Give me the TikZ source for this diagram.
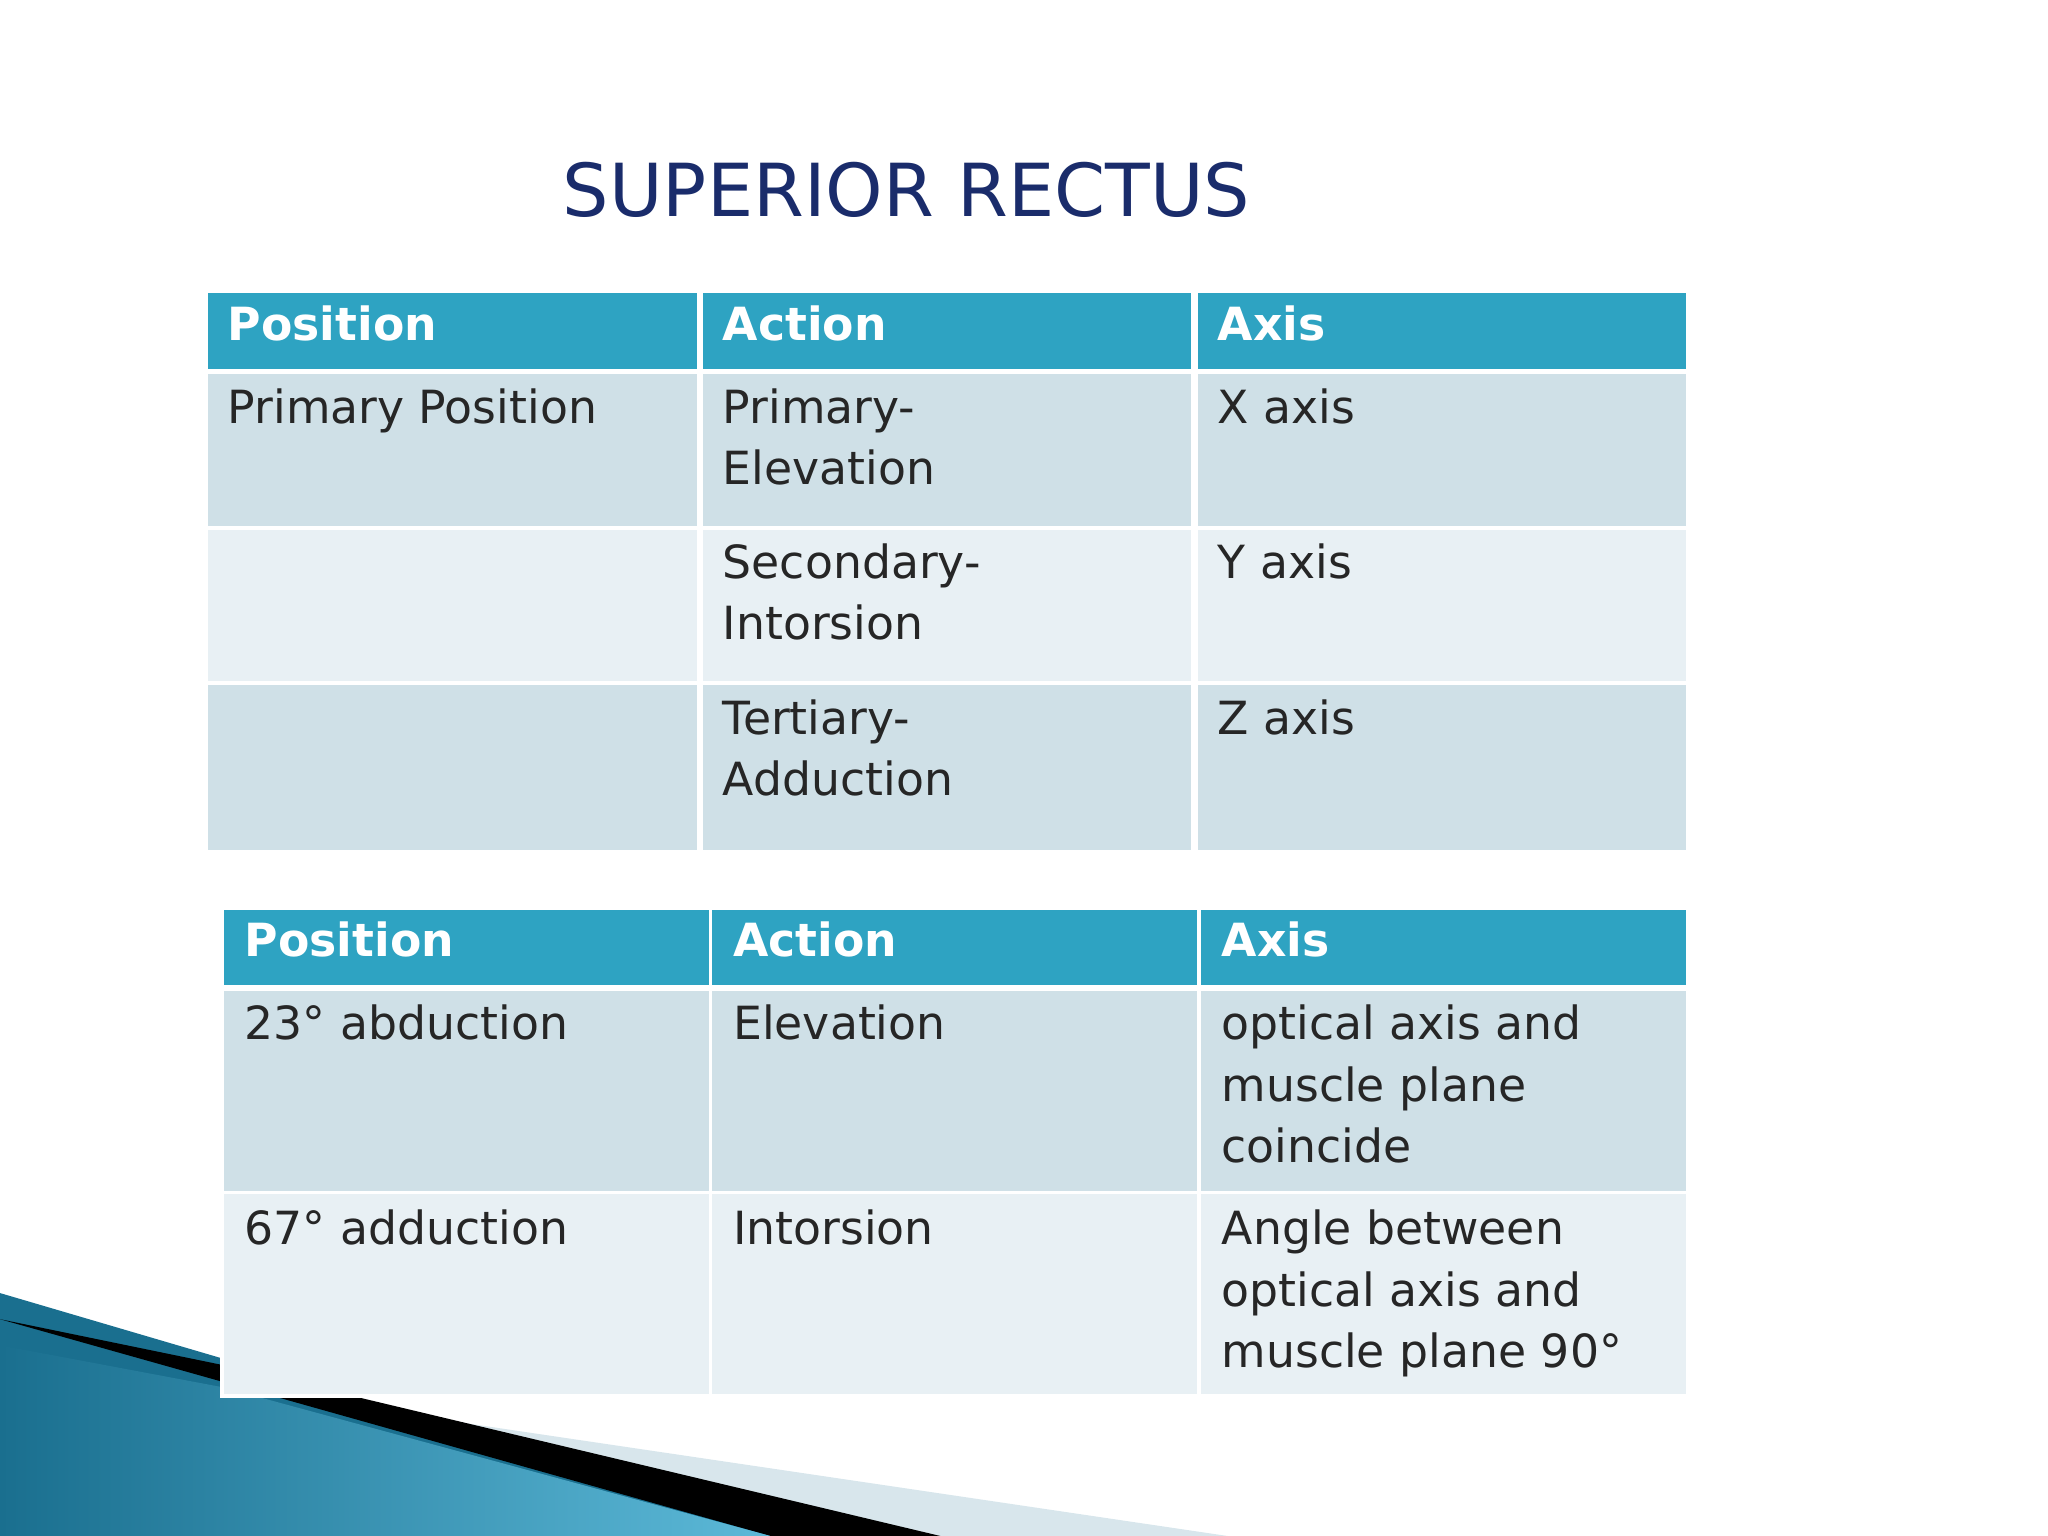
\documentclass[tikz,border=0pt]{standalone}
\usepackage{fontspec}
\setmainfont{DejaVu Sans}
\begin{document}
\begin{tikzpicture}[x=0.5pt,y=-0.5pt,
 hdr/.style={fill=hdrc,draw=white,line width=1.5pt},
 rowa/.style={fill=rowac,draw=white,line width=1.5pt},
 rowb/.style={fill=rowbc,draw=white,line width=1.5pt},
 ht/.style={anchor=north west,inner sep=0pt,text=white,font=\fontsize{17.5}{23.5}\selectfont\bfseries},
 bt/.style={anchor=north west,inner sep=0pt,align=left,text=black!85,font=\fontsize{17.5}{23.5}\selectfont}]
\definecolor{hdrc}{HTML}{2EA3C2}
\definecolor{rowac}{HTML}{CFE0E7}
\definecolor{rowbc}{HTML}{E8F0F4}
\definecolor{navy}{HTML}{1A2C6B}
\definecolor{deepb}{HTML}{1A6F8F}
\definecolor{lightb}{HTML}{5CB9D8}
\useasboundingbox (0,0) rectangle (1568,1176);
% decoration
\fill[rowac!80] (170,1062) -- (940,1176) -- (0,1176) -- cycle;
\fill[deepb] (0,990) -- (170,1040) -- (620,1176) -- (0,1176) -- cycle;
\fill[black] (0,1010) -- (170,1045) -- (720,1176) -- (590,1176) -- cycle;
\shade[left color=deepb, right color=lightb] (0,1030) -- (170,1062) -- (590,1176) -- (0,1176) -- cycle;
\node[anchor=center,text=navy,font=\fontsize{28}{34}\selectfont] (title) at (694,145) {SUPERIOR RECTUS};
% table 1
\foreach \a/\b in {158/535,537/913,916/1292}{
 \path[hdr] (\a,223) rectangle (\b,284);
 \path[rowa] (\a,285) rectangle (\b,404);
 \path[rowb] (\a,404) rectangle (\b,523);
 \path[rowa] (\a,523) rectangle (\b,652);}
\node[ht] (h1) at (174,234) {Position};
\node[ht] (h2) at (553,234) {Action};
\node[ht] (h3) at (932,234) {Axis};
\node[bt] (c11) at (174,297) {Primary Position};
\node[bt] (c12) at (553,297) {Primary-\\Elevation};
\node[bt] (c13) at (932,297) {X axis};
\node[bt] (c22) at (553,416) {Secondary-\\Intorsion};
\node[bt] (c23) at (932,416) {Y axis};
\node[bt] (c32) at (553,535) {Tertiary-\\Adduction};
\node[bt] (c33) at (932,535) {Z axis};
% table 2
\foreach \a/\b in {170/544,544/918,918/1292}{
 \path[hdr] (\a,695) rectangle (\b,756);
 \path[rowa] (\a,757) rectangle (\b,913);
 \path[rowb] (\a,913) rectangle (\b,1069);}
\node[ht] (g1) at (187,705) {Position};
\node[ht] (g2) at (561,705) {Action};
\node[ht] (g3) at (935,705) {Axis};
\node[bt] (d11) at (187,769) {23° abduction};
\node[bt] (d12) at (561,769) {Elevation};
\node[bt] (d13) at (935,769) {optical axis and\\muscle plane\\coincide};
\node[bt] (d21) at (187,926) {67° adduction};
\node[bt] (d22) at (561,926) {Intorsion};
\node[bt] (d23) at (935,926) {Angle between\\optical axis and\\muscle plane 90°};
\end{tikzpicture}
\end{document}
